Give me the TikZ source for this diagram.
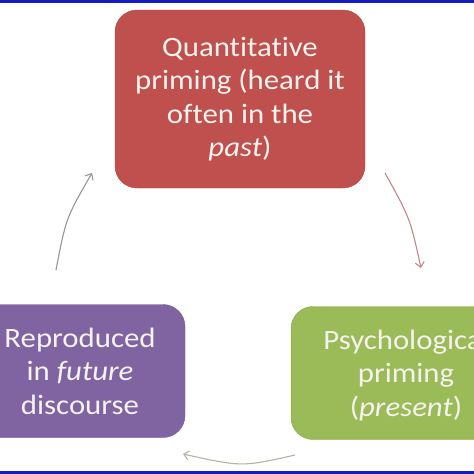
\documentclass[tikz,border=0pt]{standalone}
\usepackage{fontspec}
\setmainfont[Ligatures=NoCommon, FakeStretch=1.1]{Carlito}
\usetikzlibrary{arrows.meta}
\definecolor{boxred}{RGB}{192,80,77}
\definecolor{boxpurple}{RGB}{128,100,162}
\definecolor{boxgreen}{RGB}{155,187,89}
\definecolor{barblue}{RGB}{20,28,196}
\definecolor{boxtext}{RGB}{246,242,238}
\definecolor{arrowgrey}{RGB}{150,150,155}
\definecolor{arrowpink}{RGB}{190,135,140}
\definecolor{arrowgreen}{RGB}{175,182,165}
\tikzset{
  cyclebox/.style={rounded corners=22pt, text=boxtext, align=center,
    font=\fontsize{28}{33.5}\selectfont, inner sep=0pt},
  cyclearrow/.style={line width=1.1pt, -{Straight Barb[length=5pt,width=9pt]}}
}
\begin{document}
\begin{tikzpicture}[x=1pt,y=-1pt]
\useasboundingbox (0,0) rectangle (474,474);
\fill[white] (0,0) rectangle (474,474);
\fill[barblue] (0,0) rectangle (474,3);
\fill[barblue] (0,471) rectangle (474,474);
\node[cyclebox, fill=boxred, draw=boxred!90!black, minimum width=250pt, minimum height=178pt]
  (past) at (240,99) {Quantitative\\priming (heard it\\often in the\\\textit{past})};
\node[cyclebox, fill=boxgreen, draw=boxgreen!90!black, minimum width=230pt, minimum height=133pt,
  text depth=0pt]
  (present) at (406,373) {Psychological\\priming\\(\textit{present})};
\node[cyclebox, fill=boxpurple, draw=boxpurple!90!black, minimum width=210pt, minimum height=133pt]
  (future) at (80,371) {Reproduced\\in \textit{future}\\discourse};
\coordinate (a1s) at (385,173);
\coordinate (a1e) at (421,268);
\coordinate (a2s) at (295,455);
\coordinate (a2e) at (183,454);
\coordinate (a3s) at (56,270);
\coordinate (a3e) at (92,173);
\draw[cyclearrow, arrowpink] (a1s) .. controls (410,218) .. (a1e);
\draw[cyclearrow, arrowgreen] (a2s) .. controls (242,467) .. (a2e);
\draw[cyclearrow, arrowgrey] (a3s) .. controls (66,218) .. (a3e);
\end{tikzpicture}
\end{document}
